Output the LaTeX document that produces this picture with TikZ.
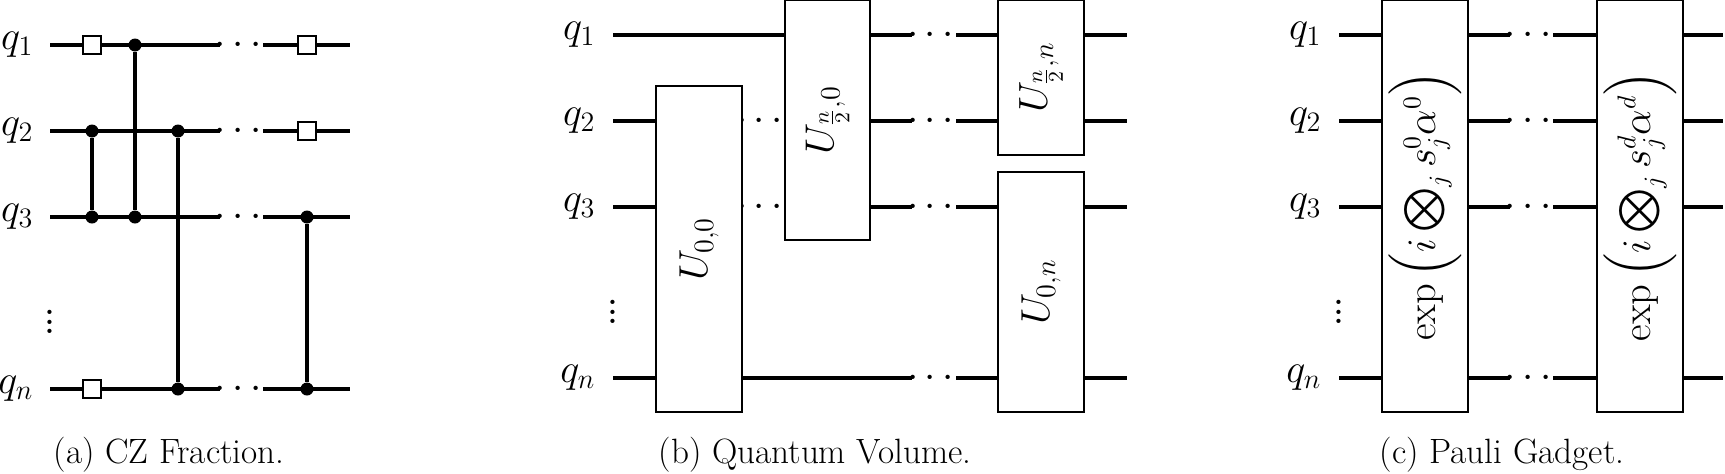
\documentclass[tikz,border=0pt]{standalone}
\usepackage{amsmath}
\begin{document}
\begin{tikzpicture}[x=0.015cm,y=-0.015cm,
 wire/.style={line width=1.4pt},
 sq/.style={draw,fill=white,line width=0.7pt,minimum size=18*0.015cm,inner sep=0pt},
 dot/.style={circle,fill,inner sep=0pt,minimum size=13*0.015cm},
 gate/.style={draw,fill=white,line width=0.7pt,inner sep=0pt},
 lab/.style={font=\fontsize{18}{20}\selectfont},
 vd/.style={font=\fontsize{22}{24}\selectfont,inner sep=0pt},
 gtxt/.style={font=\fontsize{18}{20}\selectfont},
 etxt/.style={font=\fontsize{16}{18}\selectfont},
 captxt/.style={font=\fontsize{15}{17}\selectfont}]
\useasboundingbox (0,0) rectangle (1725,473);
% ---------- (a)
\foreach \n/\y/\t in {a1/45/1,a2/131/2,a3/217/3,an/389/n}{
  \node[lab,anchor=east,inner sep=0pt] (l\n) at (34,\y) {$q_{\t}$};
  \coordinate (s\n) at (50,\y); \coordinate (m\n) at (220,\y);
  \coordinate (k\n) at (263,\y); \coordinate (e\n) at (350,\y);
  \draw[wire] (s\n) -- (m\n) (k\n) -- (e\n);
  \node[lab,inner sep=0pt] (d\n) at (241.5,\y) {$\cdots$};
}
\node[vd] (va) at (50,315) {$\vdots$};
\node[dot] (c1a) at (92,131) {}; \node[dot] (c1b) at (92,217) {};
\node[dot] (c2a) at (135,45) {}; \node[dot] (c2b) at (135,217) {};
\node[dot] (c3a) at (178,131) {}; \node[dot] (c3b) at (178,389) {};
\node[dot] (c4a) at (307,217) {}; \node[dot] (c4b) at (307,389) {};
\draw[wire] (c1a) -- (c1b) (c2a) -- (c2b) (c3a) -- (c3b) (c4a) -- (c4b);
\node[sq] (s1) at (92,45) {}; \node[sq] (s2) at (92,389) {};
\node[sq] (s3) at (307,45) {}; \node[sq] (s4) at (307,131) {};
\node[captxt] (capa) at (169,455) {(a) CZ Fraction.};
% ---------- (b)
\foreach \n/\y/\t in {b1/35/1,b2/121/2,b3/207/3,bn/378/n}{
  \node[lab,anchor=east,inner sep=0pt] (l\n) at (596,\y) {$q_{\t}$};
  \coordinate (s\n) at (613,\y); \coordinate (e\n) at (1127,\y);
  \draw[wire] (870,\y) -- (912,\y) (956,\y) -- (998,\y) (1084,\y) -- (e\n);
  \node[lab,inner sep=0pt] (d\n) at (934,\y) {$\cdots$};
}
\node[vd] (vb) at (613,305) {$\vdots$};
\draw[wire] (sb1) -- (785,35) (sb2) -- (656,121) (sb3) -- (656,207) (sbn) -- (656,378) (742,378) -- (912,378);
\node[lab,inner sep=0pt] (db2) at (763,121) {$\cdots$}; \node[lab,inner sep=0pt] (db3) at (763,207) {$\cdots$};
\node[gate,gtxt,minimum width=86*0.015cm,minimum height=326*0.015cm] (u00) at (699,249) {\rotatebox{90}{$U_{0,0}$}};
\node[gate,gtxt,minimum width=85*0.015cm,minimum height=240*0.015cm] (u1) at (827.5,120) {\rotatebox{90}{$U_{\frac{n}{2},0}$}};
\node[gate,gtxt,minimum width=86*0.015cm,minimum height=155*0.015cm] (u2) at (1041,77.5) {\rotatebox{90}{$U_{\frac{n}{2},n}$}};
\node[gate,gtxt,minimum width=86*0.015cm,minimum height=240*0.015cm] (u3) at (1041,292) {\rotatebox{90}{$U_{0,n}$}};
\node[captxt] (capb) at (815,455) {(b) Quantum Volume.};
% ---------- (c)
\foreach \n/\y/\t in {c1/35/1,c2/121/2,c3/207/3,cn/378/n}{
  \node[lab,anchor=east,inner sep=0pt] (l\n) at (1322,\y) {$q_{\t}$};
  \coordinate (s\n) at (1339,\y); \coordinate (e\n) at (1723,\y);
  \draw[wire] (s\n) -- (1382,\y) (1468,\y) -- (1510,\y) (1553,\y) -- (1597,\y) (1683,\y) -- (e\n);
  \node[lab,inner sep=0pt] (d\n) at (1531.5,\y) {$\cdots$};
}
\node[vd] (vc) at (1339,305) {$\vdots$};
\node[gate,etxt,minimum width=86*0.015cm,minimum height=412*0.015cm] (p0) at (1425,206) {\rotatebox{90}{$\exp\left(i\bigotimes_j s_j^0\alpha^0\vphantom{\Big|}\right)$}};
\node[gate,etxt,minimum width=86*0.015cm,minimum height=412*0.015cm] (pd) at (1640,206) {\rotatebox{90}{$\exp\left(i\bigotimes_j s_j^d\alpha^d\vphantom{\Big|}\right)$}};
\node[captxt] (capc) at (1502,455) {(c) Pauli Gadget.};
\end{tikzpicture}
\end{document}
